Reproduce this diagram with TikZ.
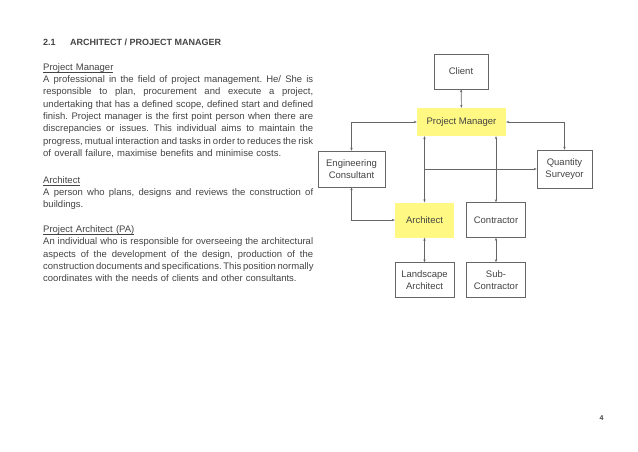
\documentclass[tikz,border=0pt]{standalone}
\usepackage{fontspec}
\setmainfont{Liberation Sans}
\usetikzlibrary{arrows.meta}
\frenchspacing

\definecolor{txtgray}{HTML}{434343}
\definecolor{linegray}{HTML}{666666}
\definecolor{pmyellow}{HTML}{FFF983}
\newcommand{\jline}[1]{{\spaceskip=0pt\xspaceskip=0pt\makebox[270pt][s]{#1}}}
\newcommand{\parahead}[1]{\underline{\smash{#1}}}

\begin{document}
\begin{tikzpicture}[x=1pt,y=-1pt,
    every node/.style={font=\fontsize{9.5}{12.3}\selectfont, text=txtgray},
    role/.style={draw=linegray, line width=0.6pt, align=center, inner sep=1pt},
    keyrole/.style={fill=pmyellow, align=center, inner sep=1pt},
    para/.style={anchor=base west, inner sep=0pt, text width=270pt, align=left},
    link/.style={linegray, line width=0.6pt, {Stealth[length=3pt,width=2.4pt]}-{Stealth[length=3pt,width=2.4pt]}}]
    \useasboundingbox (0,0) rectangle (638,451);

    % 标题
    \node[anchor=base west, inner sep=0pt, font=\fontsize{9}{11}\selectfont\bfseries] (secno) at (43,45.4) {2.1};
    \node[anchor=base west, inner sep=0pt, font=\fontsize{9}{11}\selectfont\bfseries] (sectitle) at (70,45.4) {ARCHITECT / PROJECT MANAGER};

    % 说明文字
    \node[para] (pmtext) at (43,70.3) {\parahead{Project Manager}\\
        \jline{A professional in the field of project management. He/ She is}\\
        \jline{responsible to plan, procurement and execute a project,}\\
        \jline{undertaking that has a defined scope, defined start and defined}\\
        \jline{finish. Project manager is the first point person when there are}\\
        \jline{discrepancies or issues. This individual aims to maintain the}\\
        \jline{progress, mutual interaction and tasks in order to reduces the risk}\\
        of overall failure, maximise benefits and minimise costs.};
    \node[para] (archtext) at (43,183.3) {\parahead{Architect}\\
        \jline{A person who plans, designs and reviews the construction of}\\
        buildings.};
    \node[para] (patext) at (43,232.5) {\parahead{Project Architect (PA)}\\
        \jline{An individual who is responsible for overseeing the architectural}\\
        \jline{aspects of the development of the design, production of the}\\
        \jline{construction documents and specifications. This position normally}\\
        coordinates with the needs of clients and other consultants.};

    % 组织图
    \node[role, minimum width=54pt, minimum height=35pt] (client) at (461,71.5) {Client};
    \node[keyrole, minimum width=89pt, minimum height=28pt] (pm) at (461.5,122) {Project Manager};
    \node[role, minimum width=67pt, minimum height=36pt] (eng) at (351.5,169) {Engineering\\Consultant};
    \node[role, minimum width=55pt, minimum height=38pt] (qs) at (564.5,169) {Quantity\\Surveyor};
    \node[keyrole, minimum width=59pt, minimum height=35pt] (arch) at (424.5,220) {Architect};
    \node[role, minimum width=59pt, minimum height=35pt] (con) at (496,220) {Contractor};
    \node[role, minimum width=59pt, minimum height=35pt] (land) at (424.5,280) {Landscape\\Architect};
    \node[role, minimum width=59pt, minimum height=35pt] (sub) at (496,280) {Sub-\\Contractor};

    % 连线
    \draw[link] (client) -- (pm);
    \draw[link] (eng.north) |- (pm.west);
    \draw[link] (qs.north) |- (pm.east);
    \draw[link] (arch.north) -- (arch.north |- pm.south);
    \draw[link] (con.north) -- (con.north |- pm.south);
    \draw[linegray, line width=0.6pt, -{Stealth[length=3pt,width=2.4pt]}] (arch.north |- qs.west) -- (qs.west);
    \draw[link] (eng.south) |- (arch.west);
    \draw[link] (arch) -- (land);
    \draw[link] (con) -- (sub);

    % 页码
    \node[inner sep=0pt, font=\fontsize{7}{8}\selectfont\bfseries] (pageno) at (601.5,418) {4};
\end{tikzpicture}
\end{document}
